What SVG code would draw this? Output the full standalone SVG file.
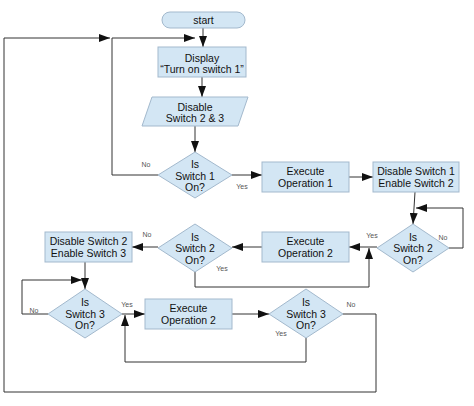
<svg xmlns="http://www.w3.org/2000/svg" width="474" height="406" viewBox="0 0 474 406">
<defs>
<marker id="arr" markerWidth="11" markerHeight="8" refX="11" refY="4" orient="auto" markerUnits="userSpaceOnUse">
<path d="M0,0 L11,4 L0,8 z" fill="#111"/>
</marker>
<style>
.shape{fill:#d3e6f4;stroke:#a3b9cd;stroke-width:1}
.t{font-family:"Liberation Sans",Arial,sans-serif;font-size:10.5px;fill:#111;text-anchor:middle}
.lbl{font-family:"Liberation Sans",Arial,sans-serif;font-size:7px;fill:#555;text-anchor:middle}
.c{fill:none;stroke:#333;stroke-width:1}
.ca{fill:none;stroke:#333;stroke-width:1;marker-end:url(#arr)}
</style>
</defs>
<rect width="474" height="406" fill="#fff"/>
<g id="connectors">
<line class="ca" x1="203" y1="28" x2="203" y2="47"/>
<line class="ca" x1="202" y1="77" x2="202" y2="97"/>
<line class="ca" x1="195" y1="126" x2="195" y2="152"/>
<polyline class="ca" points="158,175 112,175 112,38 195,38"/>
<polyline class="ca" points="343,314 376,314 376,392 4,392 4,38 110,38"/>
<line class="ca" x1="232" y1="175" x2="262" y2="175"/>
<line class="ca" x1="349" y1="177" x2="373" y2="177"/>
<line class="ca" x1="415" y1="192" x2="413" y2="224"/>
<polyline class="ca" points="449,248 463,248 463,208 416,208"/>
<line class="ca" x1="377" y1="247" x2="349" y2="247"/>
<line class="ca" x1="262" y1="247" x2="232" y2="247"/>
<polyline class="ca" points="195,272 195,287 369,287 369,248"/>
<line class="ca" x1="158" y1="247" x2="132" y2="247"/>
<line class="ca" x1="85" y1="262" x2="85" y2="289"/>
<polyline class="ca" points="48,314 22,314 22,280 82,280"/>
<line class="ca" x1="122" y1="314" x2="145" y2="314"/>
<polyline class="ca" points="306,338 306,362 125,362 125,315"/>
<line class="ca" x1="232" y1="314" x2="269" y2="314"/>
</g>
<g id="labels">
<text class="lbl" x="146" y="166.5">No</text>
<text class="lbl" x="242" y="188.5">Yes</text>
<text class="lbl" x="372" y="237.5">Yes</text>
<text class="lbl" x="443" y="239.5">No</text>
<text class="lbl" x="147" y="236.5">No</text>
<text class="lbl" x="222" y="270.5">Yes</text>
<text class="lbl" x="34" y="312.5">No</text>
<text class="lbl" x="127" y="306.5">Yes</text>
<text class="lbl" x="351" y="306.5">No</text>
<text class="lbl" x="281" y="335.5">Yes</text>
</g>
<g id="start">
<rect class="shape" x="162" y="12" width="83" height="16" rx="8" ry="8"/>
<text class="t" x="203.5" y="24">start</text>
</g>
<g id="display">
<rect class="shape" x="158" y="47" width="88" height="30"/>
<text class="t" x="202" y="61.5">Display</text>
<text class="t" x="202" y="73">“Turn on switch 1”</text>
</g>
<g id="disable23">
<polygon class="shape" points="152,97 248,97 238,126 142,126"/>
<text class="t" x="195" y="110.5">Disable</text>
<text class="t" x="195" y="122">Switch 2 &amp; 3</text>
</g>
<g id="dec1">
<polygon class="shape" points="195,152 232,175 195,198 158,175"/>
<text class="t" x="195" y="168">Is</text>
<text class="t" x="195" y="179.5">Switch 1</text>
<text class="t" x="195" y="191">On?</text>
</g>
<g id="exec1">
<rect class="shape" x="262" y="162" width="87" height="30"/>
<text class="t" x="305.5" y="175">Execute</text>
<text class="t" x="305.5" y="186.5">Operation 1</text>
</g>
<g id="dis1en2">
<rect class="shape" x="373" y="162" width="86" height="30"/>
<text class="t" x="416" y="175">Disable Switch 1</text>
<text class="t" x="416" y="186.5">Enable Switch 2</text>
</g>
<g id="dec2a">
<polygon class="shape" points="413,224 449,248 413,272 377,248"/>
<text class="t" x="413" y="240.5">Is</text>
<text class="t" x="413" y="252">Switch 2</text>
<text class="t" x="413" y="263.5">On?</text>
</g>
<g id="exec2a">
<rect class="shape" x="262" y="232" width="87" height="30"/>
<text class="t" x="305.5" y="245">Execute</text>
<text class="t" x="305.5" y="256.5">Operation 2</text>
</g>
<g id="dec2b">
<polygon class="shape" points="195,224 232,248 195,272 158,248"/>
<text class="t" x="195" y="240.5">Is</text>
<text class="t" x="195" y="252">Switch 2</text>
<text class="t" x="195" y="263.5">On?</text>
</g>
<g id="dis2en3">
<rect class="shape" x="45" y="232" width="87" height="30"/>
<text class="t" x="88.5" y="245">Disable Switch 2</text>
<text class="t" x="88.5" y="256.5">Enable Switch 3</text>
</g>
<g id="dec3a">
<polygon class="shape" points="85,289 122,314 85,338 48,314"/>
<text class="t" x="85" y="306">Is</text>
<text class="t" x="85" y="317.5">Switch 3</text>
<text class="t" x="85" y="329">On?</text>
</g>
<g id="exec2b">
<rect class="shape" x="145" y="299" width="87" height="30"/>
<text class="t" x="188.5" y="312">Execute</text>
<text class="t" x="188.5" y="323.5">Operation 2</text>
</g>
<g id="dec3b">
<polygon class="shape" points="306,289 343,314 306,338 269,314"/>
<text class="t" x="306" y="306">Is</text>
<text class="t" x="306" y="317.5">Switch 3</text>
<text class="t" x="306" y="329">On?</text>
</g>
</svg>
